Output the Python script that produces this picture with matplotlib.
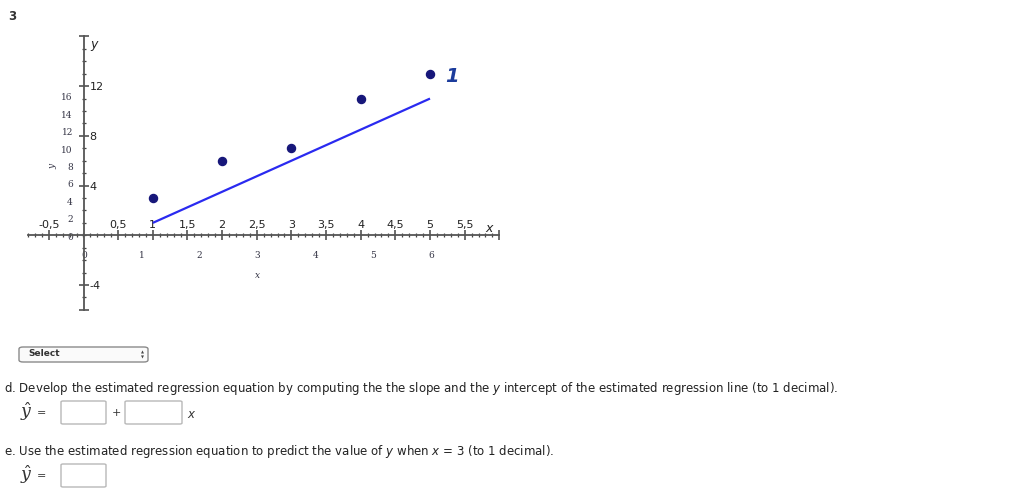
import matplotlib.pyplot as plt
import numpy as np
from matplotlib.patches import FancyBboxPatch

# scatter data and the drawn candidate line
x_pts = [1, 2, 3, 4, 5]
y_pts = [3, 6, 7, 11, 13]
line_x = [1, 5]
line_y = [1, 11]

# main axis ticks (comma decimals as in the picture)
x_major = [-0.5, 0.5, 1, 1.5, 2, 2.5, 3, 3.5, 4, 4.5, 5, 5.5]
x_major_lbl = ['-0,5', '0,5', '1', '1,5', '2', '2,5', '3', '3,5', '4', '4,5', '5', '5,5']
y_major = [-4, 4, 8, 12]
y_major_lbl = ['-4', '4', '8', '12']

# second (ghost) plot ticks
x2_ticks = [0, 1, 2, 3, 4, 5, 6]
y2_ticks = [0, 2, 4, 6, 8, 10, 12, 14, 16]

W, H = 1024, 498


def box(px, py, pw, ph):
    # pixel box -> figure fraction [left, bottom, width, height]
    return [px / W, 1 - (py + ph) / H, pw / W, ph / H]


def fpos(px, py):
    return px / W, 1 - py / H


fig = plt.figure(figsize=(W / 100, H / 100), dpi=100)
fig.patch.set_facecolor('white')

# ---- ghost plot in the background (serif labels)
ax2 = fig.add_axes(box(84, 97, 347, 139))
ax2.set_xlim(0, 6)
ax2.set_ylim(0, 16)
ax2.patch.set_visible(False)
for s in ax2.spines.values():
    s.set_visible(False)
ax2.set_xticks(x2_ticks)
ax2.set_yticks(y2_ticks)
ax2.tick_params(length=0, labelsize=6.5, colors='#333344')
ax2.tick_params(axis='x', pad=11)
ax2.tick_params(axis='y', pad=8)
for t in ax2.get_xticklabels() + ax2.get_yticklabels():
    t.set_family('DejaVu Serif')
ax2.set_xlabel('x', family='DejaVu Serif', style='italic', fontsize=6.5,
               color='#333344', labelpad=8)
ax2.set_ylabel('y', family='DejaVu Serif', style='italic', fontsize=6.5,
               color='#333344', labelpad=3)

# ---- main plot
x0, xs = 83.5, 69.3
y0, ys = 235.3, 12.43
xmin, xmax = -0.8, 6.0
ymin, ymax = -6.0, 16.0
ax = fig.add_axes(box(x0 + xmin * xs, y0 - ymax * ys,
                      (xmax - xmin) * xs, (ymax - ymin) * ys))
ax.set_xlim(xmin, xmax)
ax.set_ylim(ymin, ymax)
ax.patch.set_visible(False)
ax.spines['bottom'].set_visible(False)
ax.spines['left'].set_visible(False)
ax.spines['top'].set_position(('data', 0))
ax.spines['right'].set_position(('data', 0))
for k in ('top', 'right'):
    ax.spines[k].set_color('#555555')
    ax.spines[k].set_linewidth(1.3)
ax.xaxis.tick_top()
ax.yaxis.tick_right()
ax.set_xticks(x_major + [6.0])
ax.set_xticklabels(x_major_lbl + [''])
ax.set_xticks(np.arange(-0.8, 6.01, 0.1), minor=True)
ax.set_yticks(y_major + [-6, 16])
ax.set_yticklabels(y_major_lbl + ['', ''])
ax.set_yticks(np.arange(-6, 16.1, 1), minor=True)
ax.tick_params(which='major', direction='inout', length=7, width=1.1,
               color='#444444', labelsize=8, labelcolor='#222222', pad=0)
ax.tick_params(which='minor', direction='inout', length=3, width=0.9,
               color='#444444')
ax.tick_params(axis='y', which='major', pad=1)

ax.text(0.1, 15.1, 'y', fontsize=9, style='italic', color='#222222')
ax.text(5.8, 0.25, 'x', fontsize=9, style='italic', color='#222222')

ax.plot(line_x, line_y, color='#2a2af0', lw=1.6, solid_capstyle='butt')
ax.plot(x_pts, y_pts, 'o', color='#17177a', ms=5.8, ls='none')
ax.text(5.22, 12.3, '1', fontsize=14, fontweight='bold', style='italic',
        color='#1c3c9c')

# ---- page elements
fig.text(*fpos(8, 17), '3', fontsize=8.5, fontweight='bold', color='#333333',
         va='center')

sel = FancyBboxPatch(fpos(19, 362), 129 / W, 15 / H,
                     boxstyle='round,pad=0,rounding_size=0.004',
                     transform=fig.transFigure, fc='#fafafa', ec='#8a8a8a',
                     lw=1.0)
fig.patches.append(sel)
fig.text(*fpos(28, 354), 'Select', fontsize=6.5, fontweight='bold',
         color='#333333', va='center')
fig.text(*fpos(142, 352), '▲', fontsize=2.8, color='#444444', ha='center',
         va='center')
fig.text(*fpos(142, 357), '▼', fontsize=2.8, color='#444444', ha='center',
         va='center')

txt_kw = dict(fontsize=8.5, color='#222222', va='center', family='DejaVu Sans')
fig.text(*fpos(4, 388),
         'd. Develop the estimated regression equation by computing the the '
         'slope and the $\\mathit{y}$ intercept of the estimated regression '
         'line (to 1 decimal).', **txt_kw)
fig.text(*fpos(4, 451),
         'e. Use the estimated regression equation to predict the value of '
         '$\\mathit{y}$ when $\\mathit{x}$ = 3 (to 1 decimal).', **txt_kw)


def input_box(px, py, pw, ph):
    b = FancyBboxPatch(fpos(px, py + ph), pw / W, ph / H,
                       boxstyle='round,pad=0,rounding_size=0.002',
                       transform=fig.transFigure, fc='white', ec='#b8b8b8',
                       lw=1.0)
    fig.patches.append(b)


for row_y in (412, 475):
    fig.text(*fpos(20, row_y), '$\\hat{y}$', fontsize=12.5, color='#333333',
             va='center', math_fontfamily='dejavuserif')
    fig.text(*fpos(37, row_y + 1), '=', fontsize=8, color='#333333',
             va='center')
input_box(61, 401, 45, 23)
input_box(125, 401, 57, 23)
input_box(61, 464, 45, 23)
fig.text(*fpos(112, 413), '+', fontsize=8, color='#333333', va='center')
fig.text(*fpos(187, 414), 'x', fontsize=8.5, style='italic', color='#333333',
         va='center')

fig.savefig('out.png', dpi=100)
